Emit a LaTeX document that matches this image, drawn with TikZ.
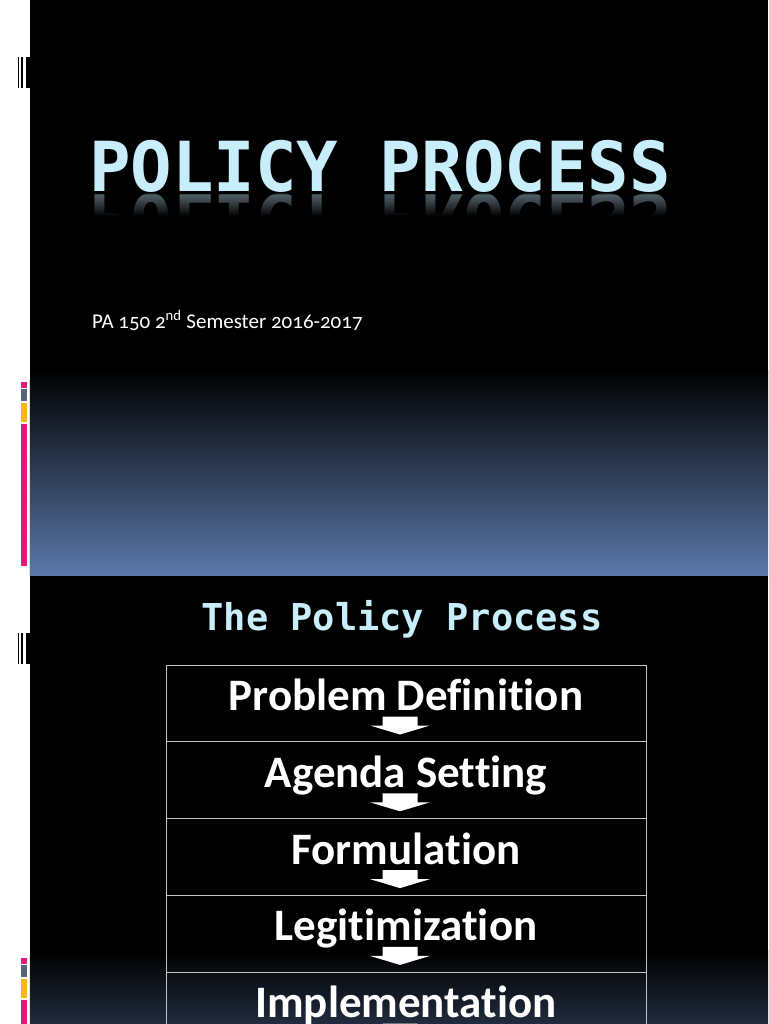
\documentclass[tikz,border=0pt]{standalone}
\usepackage{fontspec}
\setmainfont{Carlito}[Ligatures=NoCommon]
\newfontfamily\oldfig{Carlito}[Numbers=OldStyle, Ligatures=NoCommon]
\newfontfamily\titlemono{DejaVu Sans Mono}
\usetikzlibrary{calc}
\definecolor{titlecyan}{RGB}{200,238,252}
\definecolor{slideblue}{RGB}{91,121,171}
\definecolor{stripink}{RGB}{226,25,122}
\definecolor{stripgray}{RGB}{89,99,119}
\definecolor{stripyellow}{RGB}{248,181,28}
\definecolor{rowline}{RGB}{195,195,195}
\tikzset{
  titletext/.style={text=titlecyan, font=\titlemono\bfseries\fontsize{69}{80}\selectfont, inner sep=0pt},
  rowbox/.style={draw=rowline, line width=1pt, minimum width=480pt, minimum height=76.8pt,
    inner sep=0pt, text=white, font=\bfseries\fontsize{45}{50}\selectfont,
    text height=32pt, text depth=18pt},
  downarrow/.pic={\fill[white] (-17.5,0) -- (17.5,0) -- (17.5,9) -- (30,9) -- (0,18) -- (-30,9) -- (-17.5,9) -- cycle;}
}
\begin{document}
\begin{tikzpicture}[x=1pt,y=-1pt]
\useasboundingbox (0,0) rectangle (768,1024);
\clip (0,0) rectangle (768,1024);
\fill[white] (0,0) rectangle (768,1024);
% top slide
\fill[black] (30,0) rectangle (768,371);
\shade[top color=black, bottom color=slideblue] (30,370) rectangle (768,576);
% bottom slide
\fill[black] (30,576) rectangle (768,951);
\shade[top color=black, bottom color=slideblue!36!black] (30,950) rectangle (768,1024);
\draw[rowline!60, line width=0.8pt] (29.6,380) -- (29.6,576);
\draw[rowline!40, line width=0.8pt] (29.6,955) -- (29.6,1024);
% left markers
\foreach \yo in {0,576}{
  \fill[black] (18,57+\yo) rectangle (19.3,88+\yo);
  \fill[black] (21.3,57+\yo) rectangle (23,88+\yo);
  \fill[black] (25.7,57+\yo) rectangle (30,88+\yo);
  \fill[stripink] (21,382+\yo) rectangle (27,388+\yo);
  \fill[stripgray] (21,389+\yo) rectangle (27,401+\yo);
  \fill[stripyellow] (21,403+\yo) rectangle (27,422+\yo);
  \fill[stripink] (21,424+\yo) rectangle (27,566+\yo);
}
% title with reflection
\node[titletext, anchor=base] (title) at (380,192) {POLICY PROCESS};
\foreach \i in {0,...,21}{
  \pgfmathsetmacro\op{0.16*(1-\i/22)}
  \begin{scope}
    \clip (60,{194+\i}) rectangle (700,{195.05+\i});
    \node[titletext, yscale=-1, transform shape, opacity=\op, anchor=base] (refl\i) at (380,195) {POLICY PROCESS};
  \end{scope}
}
\node[anchor=base west, inner sep=0pt, text=white, font=\oldfig\fontsize{21}{25}\selectfont] (subtitle) at (92,328) {PA 150 2\textsuperscript{nd} Semester 2016-2017};
% second slide
\node[anchor=base, inner sep=0pt, text=titlecyan, font=\titlemono\bfseries\fontsize{37}{40}\selectfont] (head2) at (402,630) {The Policy Process};
\node[rowbox] (r1) at (406,703.4) {Problem Definition};
\node[rowbox] (r2) at (406,780.2) {Agenda Setting};
\node[rowbox] (r3) at (406,857.0) {Formulation};
\node[rowbox] (r4) at (406,933.8) {Legitimization};
\node[rowbox] (r5) at (406,1010.6) {Implementation};
\foreach \r in {r1,r2,r3,r4,r5}{
  \pic at ($(\r.north)+(-6,52)$) {downarrow};
}
\end{tikzpicture}
\end{document}
